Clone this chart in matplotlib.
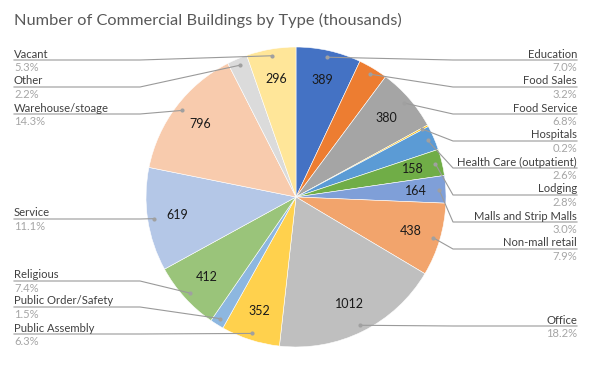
import matplotlib
matplotlib.use("Agg")
import matplotlib.pyplot as plt
import numpy as np

plt.rcParams['font.family'] = ['Lato', 'DejaVu Sans']

# data (thousands of buildings)
categories = ['Education', 'Food Sales', 'Food Service', 'Hospitals',
              'Health Care (outpatient)', 'Lodging', 'Malls and Strip Malls',
              'Non-mall retail', 'Office', 'Public Assembly',
              'Public Order/Safety', 'Religious', 'Service',
              'Warehouse/stoage', 'Other', 'Vacant']
values = [389, 177, 380, 10, 147, 158, 164, 438, 1012, 352, 83, 412, 619,
          796, 121, 296]
show_value = [True, False, True, False, False, True, True, True, True, True,
              False, True, True, True, False, True]

colors = ['#4472C4', '#ED7D31', '#A5A5A5', '#FFC000', '#5B9BD5', '#70AD47',
          '#7F9FD8', '#F2A46C', '#BFBFBF', '#FFD14D', '#8DB7E0', '#9AC47A',
          '#B4C7E7', '#F8CBAD', '#DBDBDB', '#FFE699']

# label row positions (pixels from top)
label_rows = [60, 87, 114, 141, 168, 195, 222, 249, 326, 334, 307, 281, 219,
              114, 87, 60]

W, H = 592, 366
fig = plt.figure(figsize=(W / 100, H / 100), dpi=100)
ax = fig.add_axes([0, 0, 1, 1])

cx, cy, R = 296, H - 197, 150
wedges, _ = ax.pie(values, colors=colors, startangle=90, counterclock=False,
                   center=(cx, cy), radius=R,
                   wedgeprops=dict(edgecolor='white', linewidth=0.4))
ax.set_xlim(0, W)
ax.set_ylim(0, H)
ax.set_aspect('equal')
ax.axis('off')

total = sum(values)
line_col = '#9A9A9A'
for w, name, v, show, row in zip(wedges, categories, values, show_value, label_rows):
    mid = np.deg2rad((w.theta1 + w.theta2) / 2)
    c, s = np.cos(mid), np.sin(mid)
    if show:
        ax.text(cx + 0.8 * R * c, cy + 0.8 * R * s, str(v), ha='center',
                va='center', fontsize=9, color='#1a1a1a')
    dx, dy = cx + 0.955 * R * c, cy + 0.955 * R * s
    ly = H - row
    if c >= 0:
        bend, end, ha = 453, 577, 'right'
    else:
        bend, end, ha = 140, 14, 'left'
    ax.plot([dx, bend, end], [dy, ly, ly], color=line_col, lw=0.8,
            solid_joinstyle='miter')
    ax.plot(dx, dy, 'o', ms=3, color='#A0A0A0', mec='none')
    ax.text(end, ly + 2.5, name, ha=ha, va='baseline', fontsize=8.1,
            color='#404040')
    ax.text(end, ly - 2, f'{v / total * 100:.1f}%', ha=ha, va='top',
            fontsize=8.1, color='#A6A6A6')

fig.text(14 / W, 1 - 20 / H, 'Number of Commercial Buildings by Type (thousands)',
         ha='left', va='center', fontsize=11.8, color='#595959')

fig.savefig('out.png', dpi=100)
